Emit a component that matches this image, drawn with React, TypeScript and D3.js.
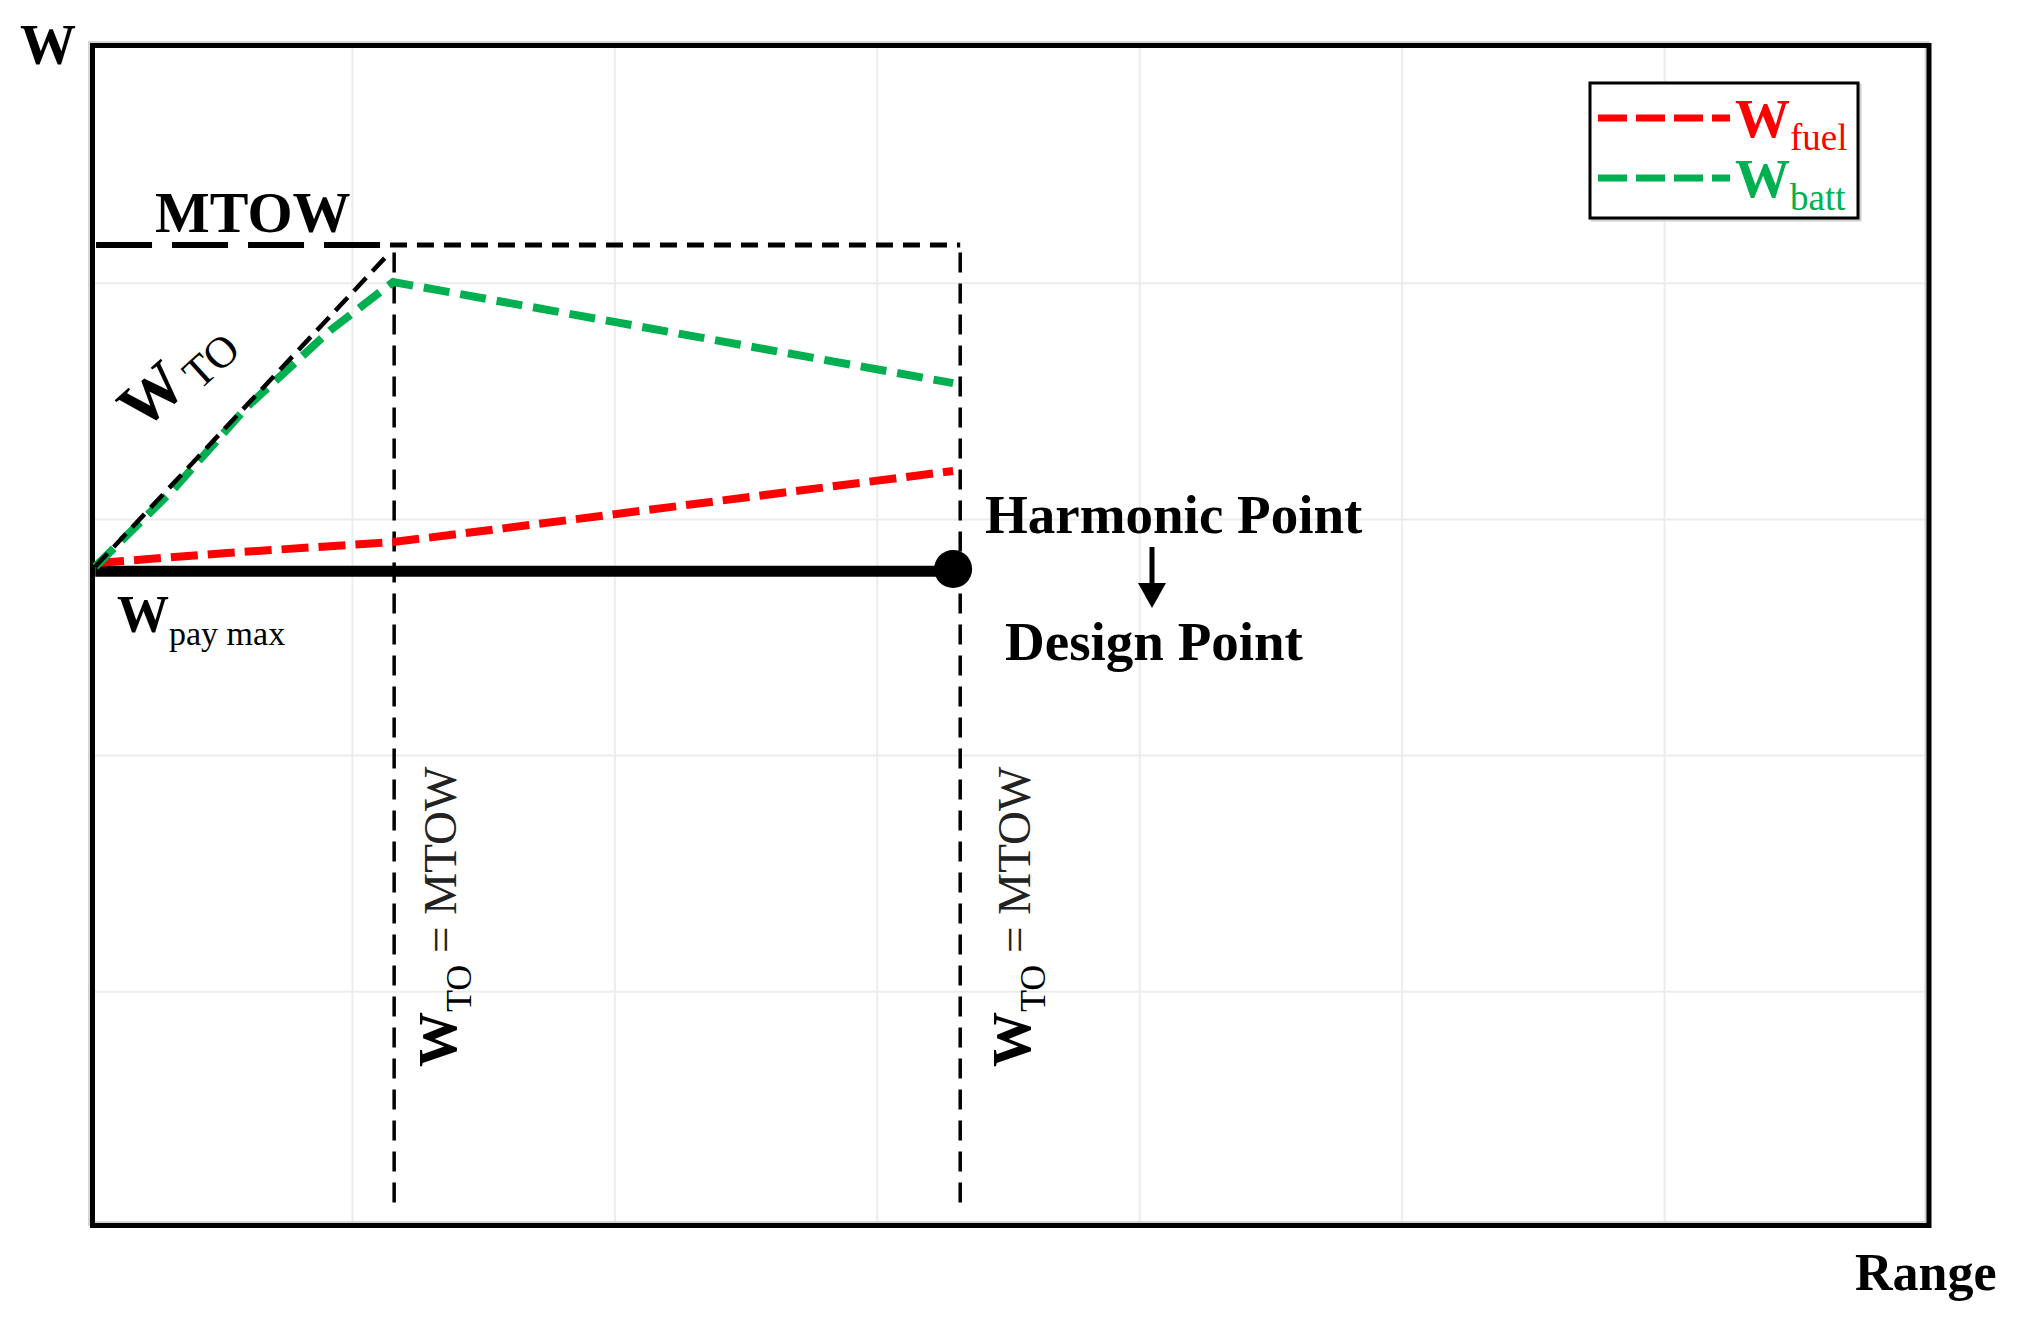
import * as d3 from 'd3';

const W = 2040;
const H = 1328;
const FONT = '"Liberation Serif", "DejaVu Serif", serif';

// grid: 7 range intervals, 5 weight intervals
const xTicks = [0, 1, 2, 3, 4, 5, 6, 7];
const yTicks = [0, 1, 2, 3, 4, 5];

// [range, weight]
const wtoRise: [number, number][] = [[0.02, 2.8], [1.143, 4.13]];
const battLine: [number, number][] = [
    [0.02, 2.8], [0.316, 3.125], [0.598, 3.476], [0.915, 3.8], [1.155, 4.005], [3.289, 3.577]
];
const fuelLine: [number, number][] = [
    [0.027, 2.815], [0.522, 2.858], [1.155, 2.904], [1.589, 2.964], [1.978, 3.019], [3.289, 3.205]
];
const payloadLine: [number, number][] = [[0.02, 2.78], [3.289, 2.78]];
const designPoint: [number, number] = [3.289, 2.79];

const mtowLevel = 4.162;
const mtowLongDash = [0.023, 1.143];
const mtowShortDash = [1.143, 3.316];
const mtowVerticals = [1.159, 3.316];
const verticalSpan = [0.076, 4.13];

const legendItems = [
    { sub: 'fuel', color: '#ff0000' },
    { sub: 'batt', color: '#00b050' },
];

export default function App() {
    const x = d3.scaleLinear().domain([0, 7]).range([90, 1927]);
    const y = d3.scaleLinear().domain([0, 5]).range([1228, 47]);
    const line = d3.line<[number, number]>().x(d => x(d[0])).y(d => y(d[1]));

    const left = x(0) + 2.5;
    const right = x(7) + 2;
    const top = y(5) - 1.5;
    const bottom = y(0) - 2.5;

    return (
        <svg width={W} height={H} style={{ position: 'absolute', left: 0, top: 0, background: '#fff' }}
            fontFamily={FONT}>
            {/* grid */}
            <g stroke="#ececec" strokeWidth={2}>
                {xTicks.slice(1, -1).map(t => (
                    <line key={'gx' + t} x1={x(t)} x2={x(t)} y1={top} y2={bottom} />
                ))}
                {yTicks.slice(1, -1).map(t => (
                    <line key={'gy' + t} x1={left} x2={right} y1={y(t)} y2={y(t)} />
                ))}
            </g>

            {/* frame */}
            <rect x={left - 2} y={top - 2} width={right - left} height={bottom - top}
                fill="none" stroke="#d4d4d4" strokeWidth={5} />
            <rect x={left} y={top} width={right - left} height={bottom - top}
                fill="none" stroke="#000" strokeWidth={5} />

            {/* MTOW level */}
            <line x1={x(mtowLongDash[0])} x2={x(mtowLongDash[1])} y1={y(mtowLevel)} y2={y(mtowLevel)}
                stroke="#000" strokeWidth={6} strokeDasharray="56 20" />
            <line x1={x(mtowShortDash[0])} x2={x(mtowShortDash[1])} y1={y(mtowLevel)} y2={y(mtowLevel)}
                stroke="#000" strokeWidth={5} strokeDasharray="17 10" />

            {/* W_TO = MTOW verticals */}
            {mtowVerticals.map((v, i) => (
                <line key={'v' + i} x1={x(v)} x2={x(v)} y1={y(verticalSpan[1])} y2={y(verticalSpan[0])}
                    stroke="#000" strokeWidth={3.5} strokeDasharray="20 11" />
            ))}

            {/* payload line + design point */}
            <path d={line(payloadLine) ?? ''} fill="none" stroke="#000" strokeWidth={11} />
            <circle cx={x(designPoint[0])} cy={y(designPoint[1])} r={19} fill="#000" />

            {/* series */}
            <path d={line(fuelLine) ?? ''} fill="none" stroke="#ff0000" strokeWidth={8} strokeDasharray="27 10" />
            <path d={line(battLine) ?? ''} fill="none" stroke="#00b050" strokeWidth={8} strokeDasharray="26 11" />
            <path d={line(wtoRise) ?? ''} fill="none" stroke="#000" strokeWidth={4.5} strokeDasharray="18 9" />

            {/* axis titles */}
            <text x={20} y={64} fontSize={56} fontWeight="bold">W</text>
            <text x={1855} y={1290} fontSize={52} fontWeight="bold">Range</text>

            {/* annotations */}
            <text x={155} y={232} fontSize={58} fontWeight="bold">MTOW</text>
            <text transform="translate(142,432) rotate(-42)" fontSize={64} fontWeight="bold">
                W<tspan fontSize={44} fontWeight="normal" dy={8} dx={6}>TO</tspan>
            </text>
            <text x={117} y={632} fontSize={52} fontWeight="bold">
                W<tspan fontSize={34} fontWeight="normal" dy={13}>pay max</tspan>
            </text>
            <text x={985} y={533} fontSize={55} fontWeight="bold">Harmonic Point</text>
            <text x={1005} y={660} fontSize={55} fontWeight="bold">Design Point</text>
            <line x1={1152} x2={1152} y1={547} y2={586} stroke="#000" strokeWidth={5} />
            <path d="M1138,583 L1166,583 L1152,608 Z" fill="#000" />

            {mtowVerticals.map((v, i) => (
                <text key={'t' + i} transform={`translate(${x(v) + (i === 0 ? 62 : 70)},1067) rotate(-90)`}
                    fontSize={55} fontWeight="bold">
                    W<tspan fontSize={36} fontWeight="normal" dy={15}>TO</tspan>
                    <tspan fontSize={47} fontWeight="normal" fill="#222" dy={-15}> = MTOW</tspan>
                </text>
            ))}

            {/* legend */}
            <rect x={1592} y={85} width={268} height={135} fill="none" stroke="#d0d0d0" strokeWidth={3} />
            <rect x={1590} y={83} width={268} height={135} fill="#fff" stroke="#000" strokeWidth={3} />
            {legendItems.map((d, i) => {
                const ly = 118 + i * 60;
                return (
                    <g key={d.sub}>
                        <line x1={1598} x2={1730} y1={ly} y2={ly} stroke={d.color} strokeWidth={7}
                            strokeDasharray="29 9" />
                        <text x={1735} y={ly + 19} fontSize={55} fontWeight="bold" fill={d.color}>
                            W<tspan fontSize={37} fontWeight="normal" dy={13}>{d.sub}</tspan>
                        </text>
                    </g>
                );
            })}
        </svg>
    );
}
